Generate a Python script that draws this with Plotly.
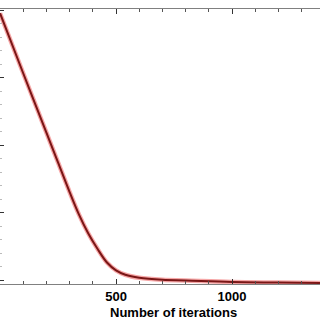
import plotly.graph_objects as go

iterations = [0, 100, 200, 250, 300, 340, 380, 420, 460, 500, 540, 600, 700, 800, 1000, 1200, 1379]
loss = [3.96, 3.07, 2.19, 1.75, 1.31, 0.98, 0.70, 0.47, 0.27, 0.15, 0.085, 0.040, 0.010, 0.0, -0.022, -0.030, -0.037]

x_ticks = [0, 500, 1000]
x_ticklabels = ["0", "500", "1000"]

fig = go.Figure()
fig.add_trace(go.Scatter(x=iterations, y=loss, mode="lines", line=dict(color="rgba(235,60,60,0.45)", width=4.5, shape="spline", smoothing=1), hoverinfo="skip"))
fig.add_trace(go.Scatter(x=iterations, y=loss, mode="lines", line=dict(color="#7a1616", width=2, shape="spline", smoothing=1)))

fig.update_layout(
    width=320, height=320,
    margin=dict(l=0, r=0, t=9, b=36),
    paper_bgcolor="white", plot_bgcolor="white",
    showlegend=False,
    font=dict(family="Liberation Sans, Arial, sans-serif", color="black"),
    annotations=[dict(text="<b>Number of iterations</b>", x=173/320, y=-0.105, xref="paper", yref="paper",
                      xanchor="center", yanchor="middle", showarrow=False, font=dict(size=13, color="black"))],
)
fig.update_xaxes(
    range=[0, 1379], tickvals=x_ticks, ticktext=[f"<b>{t}</b>" for t in x_ticklabels],
    tickfont=dict(size=13, color="black"),
    showline=True, linecolor="#808080", linewidth=1, mirror="ticks",
    ticks="inside", ticklen=5, tickcolor="#333", showgrid=False, zeroline=False,
    minor=dict(dtick=100, tick0=0, ticks="inside", ticklen=3, tickcolor="#555", showgrid=False),
)
fig.update_yaxes(
    range=[-0.052, 4.022], dtick=1, tick0=0, showticklabels=False,
    showline=True, linecolor="#808080", linewidth=1, mirror=False,
    ticks="inside", ticklen=4, tickcolor="#333", showgrid=False, zeroline=False,
    minor=dict(dtick=0.2, ticks="inside", ticklen=2, tickcolor="#bbb", showgrid=False),
)
fig.write_html("out.html")
